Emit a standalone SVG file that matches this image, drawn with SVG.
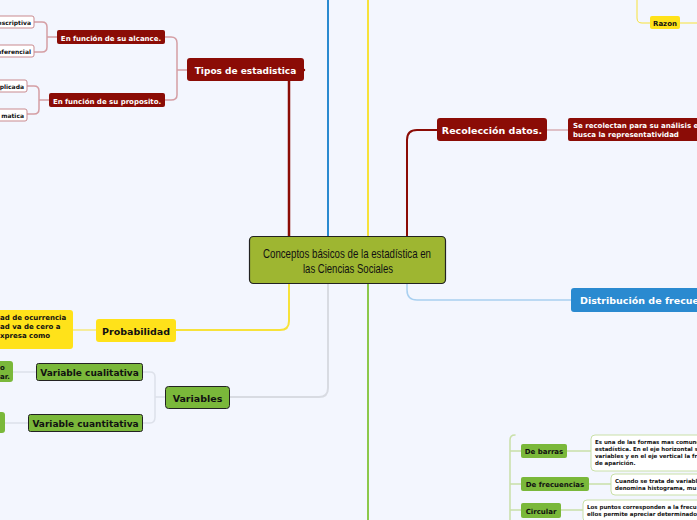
<svg xmlns="http://www.w3.org/2000/svg" width="697" height="520" viewBox="0 0 697 520">
<style>
text{font-family:"DejaVu Sans",Verdana,sans-serif;font-weight:bold}
.red{fill:#8b0c06}
.wt{fill:#fff}
.bk{fill:#111}
.leaf{fill:#fff;stroke:#c98a8f;stroke-width:1}
.yel{fill:#ffe21a}
.grn{fill:#7ab83a;stroke:#222;stroke-width:1}
.gl{fill:#7ab83a}
.gbox{fill:#fff;stroke:#c9e0a8;stroke-width:1}
.ctr{font-family:"Liberation Sans",Arial,sans-serif;font-weight:normal;font-size:13px}
path{fill:none}
</style>
<rect width="697" height="520" fill="#f3f6fe"/>
<g id="connectors" stroke-linecap="round">
<path d="M289 236V70h15" stroke="#8b0c06" stroke-width="2.5"/>
<path d="M328 236V0" stroke="#2a8ad0" stroke-width="2"/>
<path d="M368 236V0" stroke="#f7e23a" stroke-width="2"/>
<path d="M407 236V140q0-10 10-10h20" stroke="#8b0c06" stroke-width="2"/>
<path d="M289 284v37q0 9-9 9H176" stroke="#f7e23a" stroke-width="2"/>
<path d="M328 284v104q0 9-9 9H230" stroke="#d8dbe2" stroke-width="2"/>
<path d="M368 284V520" stroke="#8cc84b" stroke-width="2"/>
<path d="M407 284v6q0 10 10 10h154" stroke="#a9d0f0" stroke-width="1.5"/>
<path d="M187 70h-10M165 37h6q6 0 6 6v52q0 5-6 5h-6" stroke="#d59ea4" stroke-width="1.5"/>
<path d="M57 37h-10M34 22h8q5 0 5 5v20q0 5-5 5h-8" stroke="#d59ea4" stroke-width="1.5"/>
<path d="M49 100h-10M27 86h7q5 0 5 5v18q0 5-5 5h-7" stroke="#d59ea4" stroke-width="1.5"/>
<path d="M96 330H73" stroke="#f7e23a" stroke-width="1"/>
<path d="M165 397h-10M143 372h7q5 0 5 5v40q0 6-5 6h-7M36 372H13M28 423H5" stroke="#dde1ea" stroke-width="1.5"/>
<path d="M637 0v18q0 5 5 5h8M680 23h17" stroke="#f7e23a" stroke-width="1"/>
<path d="M547 130h21" stroke="#c98a8f" stroke-width="1"/>
<path d="M510 440q0-5 5-5M510 440V520M510 451h11M510 484h11M510 510h11M567 451h24M589 484h22M561 510h22" stroke="#c9e0a8" stroke-width="1.5"/>
</g>
<g id="center">
<rect x="249.5" y="236.5" width="196" height="47" rx="4" fill="#9eb631" stroke="#222" stroke-width="1.2"/>
<text x="263" y="258" class="bk ctr" textLength="168" lengthAdjust="spacingAndGlyphs">Conceptos básicos de la estadística en</text>
<text x="303" y="273" class="bk ctr" textLength="90" lengthAdjust="spacingAndGlyphs">las Ciencias Sociales</text>
</g>
<g id="tipos"><rect x="187" y="58" width="117" height="23" rx="3" class="red"/><text x="245.5" y="73.5" text-anchor="middle" class="wt" font-size="9">Tipos de estadistica</text></g>
<g id="alcance"><rect x="57" y="30" width="108" height="14" rx="2" class="red"/><text x="111" y="40.5" text-anchor="middle" class="wt" font-size="7">En función de su alcance.</text></g>
<g id="proposito"><rect x="49" y="93" width="116" height="14" rx="2" class="red"/><text x="107" y="103.5" text-anchor="middle" class="wt" font-size="7">En función de su proposito.</text></g>
<g id="descriptiva"><rect x="-5" y="16" width="39" height="12" rx="2" class="leaf"/><text x="31" y="25" text-anchor="end" class="bk" font-size="6">escriptiva</text></g>
<g id="inferencial"><rect x="-5" y="45" width="39" height="12" rx="2" class="leaf"/><text x="31" y="54" text-anchor="end" class="bk" font-size="6">nferencial</text></g>
<g id="aplicada"><rect x="-5" y="80" width="32" height="12" rx="2" class="leaf"/><text x="24" y="89" text-anchor="end" class="bk" font-size="6">plicada</text></g>
<g id="matematica"><rect x="-5" y="109" width="32" height="12" rx="2" class="leaf"/><text x="24" y="118" text-anchor="end" class="bk" font-size="6">matica</text></g>
<g id="razon"><rect x="650" y="16" width="30" height="13" rx="2" class="yel"/><text x="665" y="26" text-anchor="middle" class="bk" font-size="7">Razon</text></g>
<g id="recoleccion"><rect x="437" y="118" width="110" height="23" rx="3" class="red"/><text x="492" y="133.5" text-anchor="middle" class="wt" font-size="9.5">Recolección datos.</text></g>
<g id="recoleccion-txt"><rect x="568" y="118" width="135" height="23" rx="2" class="red"/><text x="573" y="128" class="wt" font-size="7">Se recolectan para su análisis e</text><text x="573" y="137" class="wt" font-size="7">busca la representatividad</text></g>
<g id="distribucion"><rect x="571" y="288" width="132" height="24" rx="3" fill="#2a8ad0"/><text x="580" y="304" class="wt" font-size="9.5">Distribución de frecuen</text></g>
<g id="probabilidad"><rect x="96" y="319" width="80" height="23" rx="3" class="yel"/><text x="136" y="334.5" text-anchor="middle" class="bk" font-size="9.5">Probabilidad</text></g>
<g id="prob-txt"><rect x="-5" y="310" width="78" height="39" rx="3" class="yel"/><text x="0" y="320" class="bk" font-size="7">ad de ocurrencia</text><text x="0" y="329" class="bk" font-size="7">ad va de cero a</text><text x="0" y="338" class="bk" font-size="7">xpresa como</text></g>
<g id="variables"><rect x="165.5" y="386.5" width="64" height="22" rx="3" class="grn"/><text x="197.5" y="401.5" text-anchor="middle" class="bk" font-size="9.5">Variables</text></g>
<g id="cualitativa"><rect x="36.5" y="363.5" width="106" height="17" rx="2" class="grn"/><text x="89.5" y="376" text-anchor="middle" class="bk" font-size="9">Variable cualitativa</text></g>
<g id="cuantitativa"><rect x="28.5" y="414.5" width="114" height="17" rx="2" class="grn"/><text x="85.5" y="427" text-anchor="middle" class="bk" font-size="9">Variable cuantitativa</text></g>
<g id="cual-txt"><rect x="-5" y="361" width="18" height="21" rx="3" class="gl"/><text x="0" y="370" class="bk" font-size="7">o</text><text x="0" y="379" class="bk" font-size="7">ar.</text></g>
<g id="cuant-txt"><rect x="-5" y="412" width="10" height="21" rx="3" class="gl"/></g>
<g id="barras"><rect x="521" y="444" width="46" height="14" rx="2" class="gl"/><text x="544" y="454" text-anchor="middle" class="bk" font-size="7">De barras</text></g>
<g id="barras-txt"><rect x="591" y="435" width="112" height="36" rx="4" class="gbox"/><text x="595" y="444" class="bk" font-size="5.5">Es una de las formas mas comunes</text><text x="595" y="451" class="bk" font-size="5.5">estadística. En el eje horizontal s</text><text x="595" y="458" class="bk" font-size="5.5">variables y en el eje vertical la fre</text><text x="595" y="465" class="bk" font-size="5.5">de aparición.</text></g>
<g id="frecuencias"><rect x="521" y="477" width="68" height="14" rx="2" class="gl"/><text x="555" y="487" text-anchor="middle" class="bk" font-size="7">De frecuencias</text></g>
<g id="frec-txt"><rect x="611" y="474" width="92" height="21" rx="4" class="gbox"/><text x="615" y="483" class="bk" font-size="5.5">Cuando se trata de variabl</text><text x="615" y="490" class="bk" font-size="5.5">denomina histograma, mu</text></g>
<g id="circular"><rect x="521" y="503" width="40" height="15" rx="2" class="gl"/><text x="541" y="514" text-anchor="middle" class="bk" font-size="7">Circular</text></g>
<g id="circ-txt"><rect x="583" y="500" width="120" height="22" rx="4" class="gbox"/><text x="587" y="509" class="bk" font-size="5.5">Los puntos corresponden  a la frecu</text><text x="587" y="516" class="bk" font-size="5.5">ellos permite apreciar determinado</text></g>
</svg>
